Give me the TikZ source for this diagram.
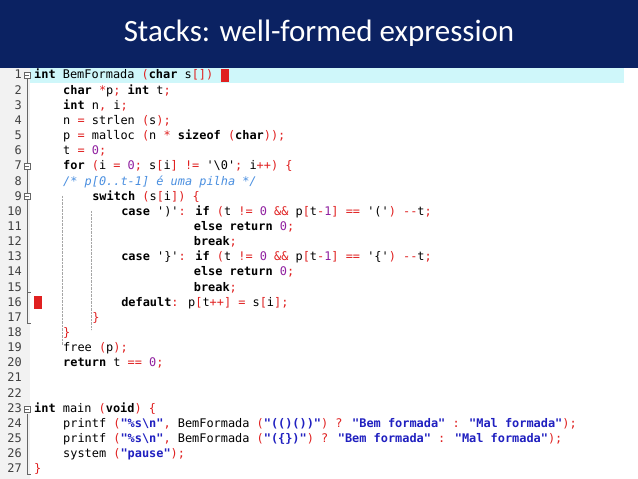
\documentclass[tikz,border=0pt]{standalone}
\usepackage{fontspec}
\setmainfont{Carlito}
\newfontfamily\codef{DejaVu Sans Mono}
\definecolor{navy}{HTML}{0B2262}
\definecolor{opred}{HTML}{E02020}
\definecolor{numpur}{HTML}{9020A0}
\definecolor{strblue}{HTML}{2020C0}
\definecolor{cmtblue}{HTML}{4A8FE0}
\definecolor{hl}{HTML}{CFF7FA}
\definecolor{gut}{HTML}{F2F2F2}
\newcommand\kw[1]{\textbf{#1}}
\newcommand\opr[1]{\textcolor{opred}{#1}}
\newcommand\num[1]{\textcolor{numpur}{#1}}
\newcommand\sstr[1]{\textcolor{strblue}{\textbf{#1}}}
\newcommand\cmt[1]{\textcolor{cmtblue}{\itshape #1}}
\newcommand\bs{\char`\\}
\begin{document}
\begin{tikzpicture}[x=1pt,y=1pt,
  cl/.style={anchor=base west,inner sep=0pt,font=\codef\fontsize{11.9}{13}\selectfont},
  lnum/.style={anchor=base east,inner sep=0pt,text=black!75,font=\codef\fontsize{11.9}{13}\selectfont},
  foldbox/.style={draw=black!60,fill=white,minimum size=6pt,inner sep=0pt},
  guide/.style={draw=black!35,densely dotted}]
\useasboundingbox (0,0) rectangle (638,479);
\fill[white] (0,0) rectangle (638,479);
% title
\fill[navy] (0,411) rectangle (638,479);
\node[text=white,font=\fontsize{31}{36}\selectfont,anchor=base] (title) at (319,437) {Stacks: well-formed expression};
% gutter
\fill[gut] (0,0) rectangle (30,411);
\fill[hl] (30,396) rectangle (624,411);
\pgfmathsetmacro\cw{7.26}
\newcommand\Y[1]{\pgfmathparse{479-75-(#1-1)*15.15-4}\pgfmathresult}
% line numbers
\foreach \n in {1,...,27}{
  \pgfmathsetmacro\yy{479-75-(\n-1)*15.15-4}
  \node[lnum] (n\n) at (22,\yy) {\n};
}
% fold gutter lines
\draw[black!60] (27,400) -- (27,156);
\draw[black!60] (27,156) -- (31,156);
\draw[black!60] (27,187) -- (31,187);
\draw[black!60] (27,65) -- (27,5);
\draw[black!60] (27,5) -- (31,5);
\foreach \yy in {404,313,283,70}{
  \node[foldbox] at (27,\yy) {};
  \draw[black!60] (25,\yy) -- (29,\yy);
}
% indent guides
\draw[guide] (62,283) -- (62,134);
\draw[guide] (91,268) -- (91,149);
% bracket highlights
\fill[opred] (221,397) rectangle (229,410);
\fill[opred] (34,170) rectangle (42,183);
% code
\foreach \n/\c/\t in {
 1/0/{\kw{int} BemFormada \opr{(}\kw{char} s\opr{[])} \opr{\{}},
 2/4/{\kw{char} \opr{*}p\opr{;} \kw{int} t\opr{;}},
 3/4/{\kw{int} n\opr{,} i\opr{;}},
 4/4/{n \opr{=} strlen \opr{(}s\opr{);}},
 5/4/{p \opr{=} malloc \opr{(}n \opr{*} \kw{sizeof} \opr{(}\kw{char}\opr{));}},
 6/4/{t \opr{=} \num{0}\opr{;}},
 7/4/{\kw{for} \opr{(}i \opr{=} \num{0}\opr{;} s\opr{[}i\opr{]} \opr{!=} '\bs0'\opr{;} i\opr{++)} \opr{\{}},
 8/4/{\cmt{/* p[0..t-1] é uma pilha */}},
 9/8/{\kw{switch} \opr{(}s\opr{[}i\opr{])} \opr{\{}},
 10/12/{\kw{case} ')'\opr{:} \kw{if} \opr{(}t \opr{!=} \num{0} \opr{\&\&} p\opr{[}t\opr{-}\num{1}\opr{]} \opr{==} '('\opr{)} \opr{--}t\opr{;}},
 11/22/{\kw{else} \kw{return} \num{0}\opr{;}},
 12/22/{\kw{break}\opr{;}},
 13/12/{\kw{case} '\}'\opr{:} \kw{if} \opr{(}t \opr{!=} \num{0} \opr{\&\&} p\opr{[}t\opr{-}\num{1}\opr{]} \opr{==} '\{'\opr{)} \opr{--}t\opr{;}},
 14/22/{\kw{else} \kw{return} \num{0}\opr{;}},
 15/22/{\kw{break}\opr{;}},
 16/12/{\kw{default}\opr{:} p\opr{[}t\opr{++]} \opr{=} s\opr{[}i\opr{];}},
 17/8/{\opr{\}}},
 18/4/{\opr{\}}},
 19/4/{free \opr{(}p\opr{);}},
 20/4/{\kw{return} t \opr{==} \num{0}\opr{;}},
 21/0/{\textcolor{white}{\}}},
 23/0/{\kw{int} main \opr{(}\kw{void}\opr{)} \opr{\{}},
 24/4/{printf \opr{(}\sstr{"\%s\bs n"}\opr{,} BemFormada \opr{(}\sstr{"((){()})"}\opr{)} \opr{?} \sstr{"Bem formada"} \opr{:} \sstr{"Mal formada"}\opr{);}},
 25/4/{printf \opr{(}\sstr{"\%s\bs n"}\opr{,} BemFormada \opr{(}\sstr{"(\{\})"}\opr{)} \opr{?} \sstr{"Bem formada"} \opr{:} \sstr{"Mal formada"}\opr{);}},
 26/4/{system \opr{(}\sstr{"pause"}\opr{);}},
 27/0/{\opr{\}}}}{
  \pgfmathsetmacro\yy{479-75-(\n-1)*15.15-4}
  \pgfmathsetmacro\xx{34+\c*\cw}
  \node[cl] (c\n) at (\xx,\yy) {\t};
}
\end{tikzpicture}
\end{document}
